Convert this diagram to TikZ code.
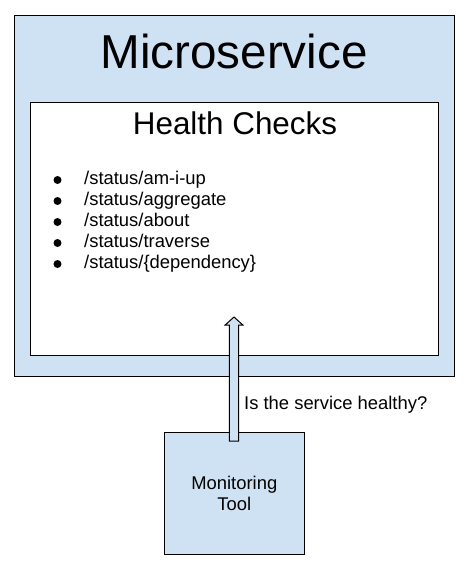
\documentclass[tikz,border=0pt]{standalone}
\usepackage{fontspec}
\setmainfont{Liberation Sans}
\usepackage{tikz}
\usetikzlibrary{calc,positioning}
\definecolor{svcblue}{HTML}{CFE2F3}

\begin{document}
\begin{tikzpicture}[x=1pt, y=-1pt,
    box/.style={draw=black, line width=1pt, inner sep=0pt},
    small/.style={font=\fontsize{18.4}{21}\selectfont, inner sep=0pt}]
  \useasboundingbox (0,0) rectangle (474,576);
  % containers
  \node[box, fill=svcblue, minimum width=440pt, minimum height=360.7pt] (service) at (234,196.3) {};
  \node[box, fill=white, minimum width=408pt, minimum height=253pt] (checks) at (234.7,228.5) {};
  \node[anchor=base, inner sep=0pt, font=\fontsize{47.6}{50}\selectfont] (title) at (234,68) {Microservice};
  \node[anchor=base, inner sep=0pt, font=\fontsize{31.4}{34}\selectfont] (checkstitle) at (235,134) {Health Checks};
  % endpoints
  \foreach \ep [count=\i] in {am-i-up,aggregate,about,traverse,{\{dependency\}}} {
    \node[circle, fill=black, inner sep=0pt, minimum size=8pt] (dot\i) at (57.5,{180+21*(\i-1)}) {};
    \node[small, anchor=base west] (ep\i) at (84,{184.5+21*(\i-1)}) {/status/\ep};
  }
  % monitoring tool
  \node[box, fill=svcblue, minimum width=140pt, minimum height=121.6pt,
    small, align=center] (tool) at (234.3,493.5) {Monitoring\\Tool};
  \coordinate (tail) at ($(tool.north)+(-0.3,9)$);
  \coordinate (head) at (234,317);
  \draw[box, fill=svcblue] ($(tail)+(-4.7,0)$) -- ($(head)+(-4.7,8)$) -- ($(head)+(-8.85,8)$)
    -- (head) -- ($(head)+(8.85,8)$) -- ($(head)+(4.7,8)$) -- ($(tail)+(4.7,0)$) -- cycle;
  \node[small, anchor=base west] (question) at (244,409) {Is the service healthy?};
\end{tikzpicture}
\end{document}
